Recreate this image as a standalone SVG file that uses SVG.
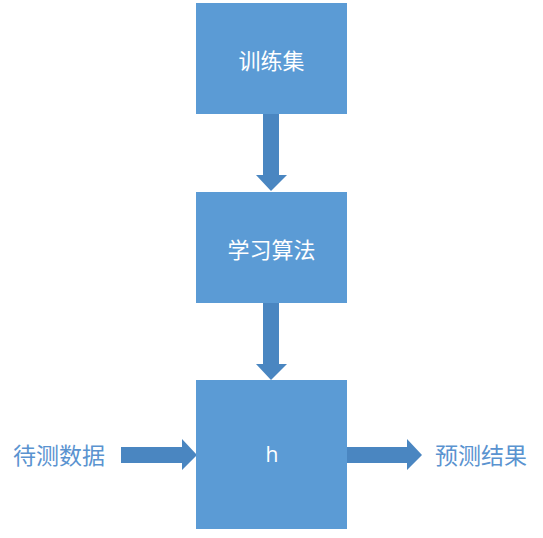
<svg xmlns="http://www.w3.org/2000/svg" width="543" height="538" viewBox="0 0 543 538">
<style>
.box{fill:#5B9BD5;}
.arr{fill:#4A86C1;}
.in{font-family:"Noto Sans CJK SC","Liberation Sans",sans-serif;font-size:22px;fill:#FFFFFF;text-anchor:middle;dominant-baseline:central;}
.out{font-family:"Noto Sans CJK SC","Liberation Sans",sans-serif;font-size:23px;fill:#5A93D0;dominant-baseline:central;}
</style>
<rect width="543" height="538" fill="#FFFFFF"/>
<g id="connectors">
<polygon class="arr" points="263,114 279,114 279,175 287,175 271,191 256,175 263,175"/>
<polygon class="arr" points="263,303 279,303 279,364 287,364 271,380 256,364 263,364"/>
<polygon class="arr" points="121,447 182,447 182,439 197,455 182,470 182,463 121,463"/>
<polygon class="arr" points="347,447 407,447 407,439 422,455 407,470 407,463 347,463"/>
</g>
<g id="node-train">
<rect class="box" x="196" y="3" width="151" height="111"/>
<text class="in" x="271.5" y="58.5">训练集</text>
</g>
<g id="node-algo">
<rect class="box" x="196" y="192" width="151" height="111"/>
<text class="in" x="271.5" y="247.5">学习算法</text>
</g>
<g id="node-h">
<rect class="box" x="196" y="380" width="151" height="149"/>
<text class="in" x="272" y="454" style="font-family:'Open Sans','Liberation Sans',sans-serif;font-size:21px">h</text>
</g>
<g id="node-input">
<text class="out" x="13" y="454">待测数据</text>
</g>
<g id="node-output">
<text class="out" x="435" y="454">预测结果</text>
</g>
</svg>
